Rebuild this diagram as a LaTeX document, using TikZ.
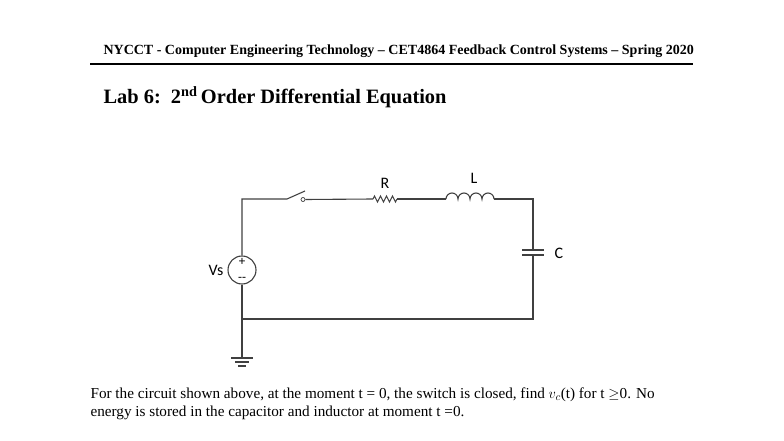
\documentclass[tikz,border=0pt]{standalone}
\usepackage{fontspec}
\setmainfont{Liberation Serif}
\newfontfamily\lbl{Carlito}
\usetikzlibrary{decorations.pathmorphing}
\begin{document}
\begin{tikzpicture}[x=1pt,y=-1pt,line width=1.1pt,
  wire/.style={draw=black!75},
  lab/.style={font=\lbl\fontsize{16}{16}\selectfont,inner sep=0pt}]
\useasboundingbox (0,0) rectangle (784,441);
\node[anchor=base west,inner sep=0pt,font=\bfseries\fontsize{14}{15}\selectfont] (hdr) at (103,55) {NYCCT - Computer Engineering Technology -- CET4864 Feedback Control Systems -- Spring 2020};
\draw[line width=1.4pt] (90,64) -- (693,64);
\node[anchor=base west,inner sep=0pt,font=\bfseries\fontsize{20.4}{22}\selectfont] (ttl) at (103,104) {Lab 6:\ \ 2\textsuperscript{nd}\,Order Differential Equation};
\node[anchor=base west,inner sep=0pt,align=left,font=\fontsize{15.2}{18}\selectfont] (txt) at (90,416) {For the circuit shown above, at the moment t = 0, the switch is closed, find $v_c$(t) for t $\geq$0. No\\energy is stored in the capacitor and inductor at moment t =0.};
% circuit
\coordinate (tl) at (242,199);
\coordinate (tr) at (533,199);
\coordinate (br) at (533,319);
\coordinate (bl) at (242,319);
\node[draw=black!75,circle,minimum size=28pt,inner sep=0pt] (vs) at (242,270) {};
\node[font=\lbl\fontsize{13}{13}\selectfont,inner sep=0pt] at (242,262) {+};
\node[font=\lbl\fontsize{13}{13}\selectfont,inner sep=0pt] at (242,279) {--};
\node[lab] (vsl) at (216,270) {Vs};
\coordinate (sw1) at (287,199);
\coordinate (sw2) at (305,191);
\node[circle,draw=black!75,inner sep=0pt,minimum size=4pt,line width=0.7pt] (swc) at (303,199.5) {};
\coordinate (r1) at (373,199);
\coordinate (r2) at (397,199);
\coordinate (l1) at (446,199);
\coordinate (l2) at (494,199);
\coordinate (c1) at (533,250);
\coordinate (c2) at (533,255);
\node[lab] (rl) at (385,183) {R};
\node[lab] (ll) at (474,178) {L};
\node[lab] (cl) at (559,253) {C};
\draw[wire] (vs.north) -- (tl) -- (sw1) -- (sw2);
\draw[wire] (swc.east) -- (r1);
\draw[wire,decorate,decoration={zigzag,segment length=6pt,amplitude=3pt}] (r1) -- (r2);
\draw[wire] (r2) -- (l1);
\draw[wire] (l1) \foreach \i in {0,1,2,3} { arc[start angle=180,end angle=0,radius=6pt] };
\draw[wire] (l2) -- (tr) -- (c1);
\draw[wire] (522,250) -- (544,250);
\draw[wire] (522,255) -- (544,255);
\draw[wire] (c2) -- (br) -- (bl) -- (vs.south);
\coordinate (g) at (242,358);
\draw[wire] (bl) -- (g);
\draw[wire] (231,358) -- (253,358);
\draw[wire] (235,362) -- (249,362);
\draw[wire] (238,366) -- (246,366);
\end{tikzpicture}
\end{document}
